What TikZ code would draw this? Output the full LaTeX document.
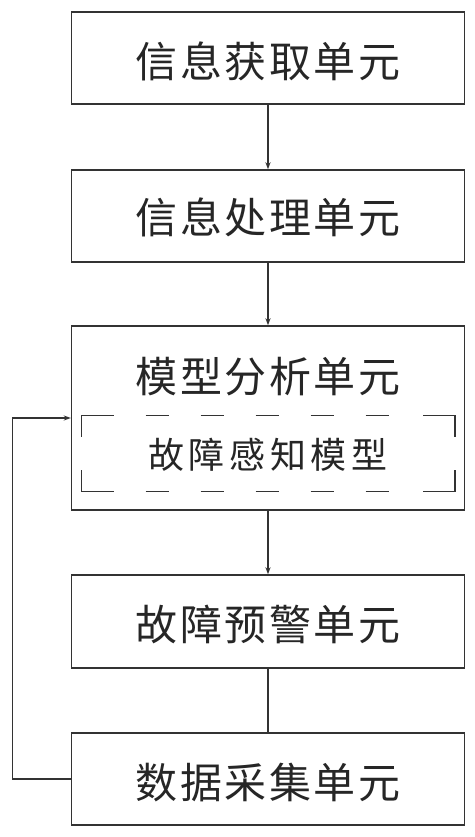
\documentclass[tikz,border=0pt]{standalone}
\usepackage{fontspec}
\newfontfamily\cjkbox[LetterSpace=6]{Noto Sans CJK SC}
\newfontfamily\cjkin[LetterSpace=13]{Noto Sans CJK SC}
\usetikzlibrary{arrows.meta,calc}
\definecolor{ink}{HTML}{333333}
\tikzset{
  unitbox/.style={draw=ink, line width=1.4pt, minimum width=393pt, inner sep=0pt, fill=white},
  boxtxt/.style={inner sep=0pt, text=black!85, font=\cjkbox\fontsize{42pt}{46pt}\selectfont},
  intxt/.style={inner sep=0pt, text=black!85, font=\cjkin\fontsize{36pt}{40pt}\selectfont},
  conn/.style={draw=ink, line width=1.2pt},
  arr/.style={conn, -{Stealth[length=7pt,width=5pt]}},
  dashseg/.style={draw=ink, line width=1.3pt},
}
\begin{document}
\begin{tikzpicture}[x=1pt,y=-1pt]
\useasboundingbox (0,0) rectangle (474,837);
\node[unitbox, minimum height=92pt] (b1) at (268,58) {};
\node[unitbox, minimum height=92pt] (b2) at (268,216) {};
\node[unitbox, minimum height=184pt] (b3) at (268,418) {};
\node[unitbox, minimum height=93pt] (b4) at (268,621.5) {};
\node[unitbox, minimum height=92pt] (b5) at (268,779) {};
\node[boxtxt] (t1) at ($(b1.center)+(0,3.5)$) {信息获取单元};
\node[boxtxt] (t2) at ($(b2.center)+(0,1)$) {信息处理单元};
\node[boxtxt] (t3) at (268,376.5) {模型分析单元};
\node[boxtxt] (t4) at ($(b4.center)+(0,2.5)$) {故障预警单元};
\node[boxtxt] (t5) at ($(b5.center)+(0,3.5)$) {数据采集单元};
% inner dashed model box
\node[inner sep=0pt, minimum width=373pt, minimum height=75pt] (m) at (268.3,453.5) {};
\node[intxt] (mt) at (268,455) {故障感知模型};
\draw[dashseg] ($(m.north west)+(32,0)$) -- (m.north west) -- ($(m.north west)+(0,21)$);
\draw[dashseg] ($(m.north east)+(-32,0)$) -- (m.north east) -- ($(m.north east)+(0,21)$);
\draw[dashseg] ($(m.south west)+(32,0)$) -- (m.south west) -- ($(m.south west)+(0,-21)$);
\draw[dashseg] ($(m.south east)+(-32,0)$) -- (m.south east) -- ($(m.south east)+(0,-21)$);
\draw[dashseg, dash pattern=on 23pt off 32pt] ($(m.north west)+(64,0)$) -- ($(m.north east)+(-64,0)$);
\draw[dashseg, dash pattern=on 23pt off 32pt] ($(m.south west)+(64,0)$) -- ($(m.south east)+(-64,0)$);
% connectors
\draw[arr] (b1.south) -- (b2.north);
\draw[arr] (b2.south) -- (b3.north);
\draw[arr] (b3.south) -- (b4.north);
\draw[conn] (b4.south) -- (b5.north);
\coordinate (fb) at (12.3,779);
\draw[arr] (b5.west) -- (fb) |- (b3.west);
\end{tikzpicture}
\end{document}
